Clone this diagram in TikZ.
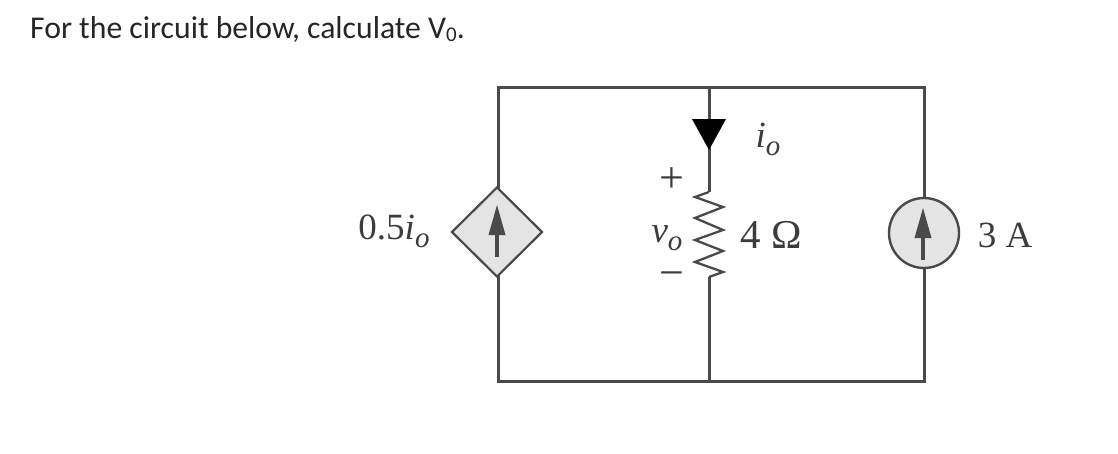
\documentclass[tikz,border=0pt]{standalone}
\usepackage{fontspec}
\setmainfont{Liberation Serif}
\newfontfamily\titlefont{Carlito}
\usetikzlibrary{shapes.geometric}
\definecolor{wire}{HTML}{4A4A4A}
\definecolor{srcfill}{HTML}{E4E4E4}
\definecolor{labelc}{HTML}{3C3C3C}
\newcommand{\ito}{\textit{i}\raisebox{-8pt}{\fontsize{29}{29}\selectfont\textit{o}}}
\newcommand{\vto}{\textit{v}\raisebox{-8pt}{\fontsize{29}{29}\selectfont\textit{o}}}
\tikzset{
  wirepath/.style={draw=wire,line width=3pt},
  srcdiamond/.style={diamond,aspect=1,draw=wire,fill=srcfill,line width=2.2pt,minimum width=91pt,minimum height=90pt,inner sep=0pt},
  srccircle/.style={circle,draw=wire,fill=srcfill,line width=2.4pt,minimum size=70pt,inner sep=0pt},
  lab/.style={text=labelc,font=\fontsize{37}{37}\selectfont,inner sep=0pt},
  sgn/.style={text=labelc,font=\fontsize{44}{44}\selectfont,inner sep=0pt},
  ttl/.style={text=black!85,font=\titlefont\fontsize{31.7}{31.7}\selectfont,inner sep=0pt,anchor=base west}
}
\begin{document}
\begin{tikzpicture}[x=1pt,y=-1pt]
\useasboundingbox (0,0) rectangle (1118,453);
\fill[white] (0,0) rectangle (1118,453);
\node[ttl] (title) at (30,38) {For the circuit below, calculate V\raisebox{-3pt}{\fontsize{21}{21}\selectfont 0}.};
% corners and junctions
\coordinate (tl) at (498,87);
\coordinate (tm) at (709,87);
\coordinate (tr) at (924,87);
\coordinate (bl) at (498,381);
\coordinate (bm) at (709,381);
\coordinate (br) at (924,381);
\coordinate (rtop) at (709,192);
\coordinate (rbot) at (709,277);
% wires
\draw[wirepath,line join=miter] (bl) -- (tl) -- (tr) -- (br) -- cycle;
\draw[wirepath] (tm) -- (rtop);
\draw[wirepath] (rbot) -- (bm);
% sources
\node[srcdiamond] (dep) at (497,232) {};
\node[srccircle] (ind) at (924,233) {};
% source arrows
\coordinate (depa) at (497,257); \coordinate (depb) at (497,235);
\coordinate (inda) at (923,260); \coordinate (indb) at (923,238);
\draw[draw=wire,line width=4.5pt] (depa) -- (depb);
\fill[wire] (497,205) -- (505.5,235) -- (488.5,235) -- cycle;
\draw[draw=wire,line width=4.5pt] (inda) -- (indb);
\fill[wire] (923,208) -- (931.5,238) -- (914.5,238) -- cycle;
% current arrow
\fill[black] (692,119) -- (726,119) -- (709,150) -- cycle;
% resistor
\draw[draw=wire,line width=2.3pt,line join=miter]
  (rtop) -- (695,197) -- (723,207) -- (695,218) -- (723,230) -- (695,240) -- (723,251) -- (695,262) -- (723,272) -- (rbot);
% labels
\node[lab,anchor=base] (lio) at (768,147) {\ito};
\node[lab,anchor=base] (lv) at (667,242) {\vto};
\node[lab,anchor=base,font=\fontsize{41}{41}\selectfont] (l4) at (771,248) {4 \symbol{"03A9}};
\node[lab,anchor=base] (l3) at (1005,247) {3 A};
\node[lab,anchor=base] (l05) at (394,239) {0.5\ito};
\node[sgn,anchor=center] (lp) at (672,180) {+};
\node[sgn,anchor=center] (lm) at (672,280) {\textminus};
\end{tikzpicture}
\end{document}
